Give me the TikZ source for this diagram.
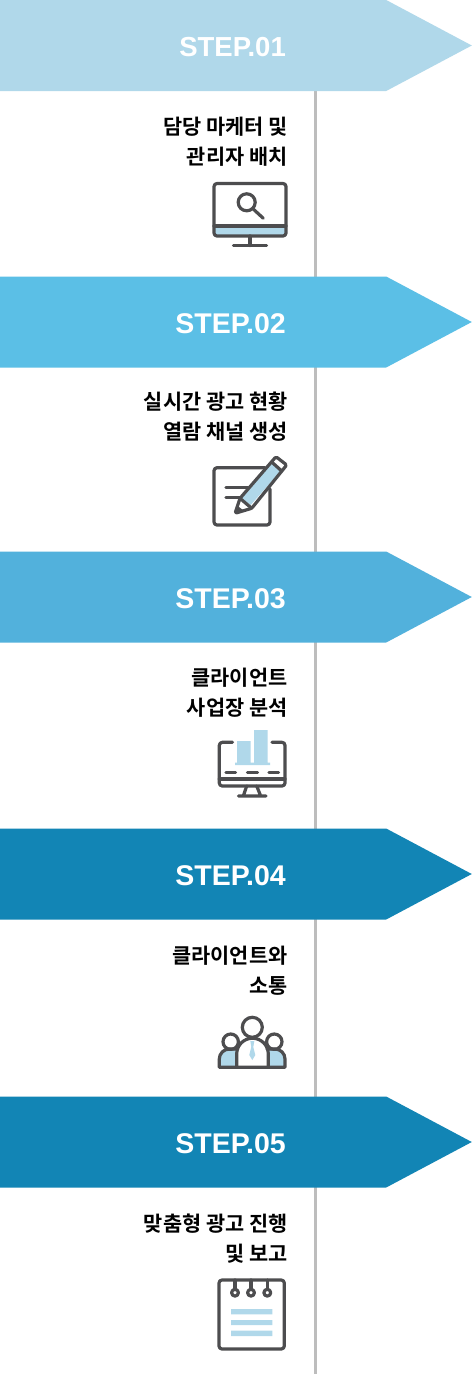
\documentclass[tikz,border=0pt]{standalone}
\usepackage{fontspec}
\setmainfont{Liberation Sans}
\newfontfamily\krfont{Noto Sans CJK KR}[BoldFont={Noto Sans CJK KR Bold}]
\usetikzlibrary{shapes.symbols,positioning}
\definecolor{stepa}{HTML}{B0D8EA}
\definecolor{stepb}{HTML}{5BBFE6}
\definecolor{stepc}{HTML}{52B1DC}
\definecolor{stepd}{HTML}{1285B5}
\definecolor{icongray}{HTML}{4D4D4F}
\definecolor{iconblue}{HTML}{B0D8EA}
\definecolor{railgray}{HTML}{BDBDBD}
\begin{document}
\begin{tikzpicture}[
  x=1pt, y=-1pt,
  banner/.style={signal, signal to=east, signal pointer angle=56, minimum width=472pt, minimum height=91pt, inner sep=0pt, draw=none},
  steplabel/.style={anchor=east, inner sep=0pt, text=white, font=\fontsize{28.5}{30}\selectfont\bfseries},
  desc/.style={anchor=east, align=right, inner sep=0pt, text=black, font=\krfont\fontsize{20.8}{30}\selectfont\bfseries},
  rail/.style={draw=railgray, line width=3pt},
  icon/.style={draw=icongray, line width=3.2pt, line join=round, line cap=round}
]
\useasboundingbox (0,0) rectangle (474,1374);
\fill[white] (0,0) rectangle (474,1374);
\coordinate (railtop) at (315,60);
\coordinate (railend) at (315,1374);
\draw[rail] (railtop) -- (railend);

% banners
\node[banner, fill=stepa] (stepone) at (193,45.5) {};
\node[banner, fill=stepb] (steptwo) at (193,322) {};
\node[banner, fill=stepc] (stepthree) at (193,597) {};
\node[banner, fill=stepd] (stepfour) at (193,874) {};
\node[banner, fill=stepd] (stepfive) at (193,1142) {};
\node[steplabel, font=\fontsize{27.5}{30}\selectfont\bfseries] (labone) at (286,47.5) {STEP.01};
\node[steplabel] (labtwo) at (286,324) {STEP.02};
\node[steplabel] (labthree) at (286,599) {STEP.03};
\node[steplabel] (labfour) at (286,876) {STEP.04};
\node[steplabel] (labfive) at (286,1144) {STEP.05};

% texts
\node[desc] (descone) at (287.5,142) {담당 마케터 및\\관리자 배치};
\node[desc] (desctwo) at (287.5,417) {실시간 광고 현황\\열람 채널 생성};
\node[desc] (descthree) at (287.5,693) {클라이언트\\사업장 분석};
\node[desc] (descfour) at (287.5,971) {클라이언트와\\소통};
\node[desc] (descfive) at (287.5,1239) {맞춤형 광고 진행\hspace{6.5pt}\\및 보고};

% monitor
\fill[iconblue] (214,226) rectangle (286,236);
\draw[icon, rounded corners=3pt] (214,183.5) rectangle (286,236);
\draw[icon] (214,226) -- (286,226);
\draw[icon] (250,236) -- (250,245.5) (233.5,245.5) -- (266.5,245.5);
\draw[icon] (246.7,202.3) circle (8.5);
\draw[icon] (253.5,209.3) -- (263.3,218.3);

% pencil
\draw[icon, rounded corners=3pt] (265,467.7) -- (214,467.7) -- (214,525) -- (270,525) -- (270,489);
\draw[icon] (226,487.3) -- (248,487.3) (226,497.7) -- (240,497.7);
\fill[white] (240,498.3) -- (276,456) -- (286,465) -- (251.7,508.3) -- cycle;
\fill[iconblue] (241,498.3) -- (271.7,463.3) -- (280.7,471) -- (250.7,505) -- cycle;
\draw[icon, rounded corners=1.5pt] (235,513.3) -- (240,498.3) -- (276,456.7) -- (286.7,465) -- (251.7,508.3) -- cycle;
\draw[icon] (240,498.3) -- (251.7,508.3) (271.7,462) -- (281.7,471);
\fill[icongray] (235,513.3) -- (237,505.5) -- (243,510) -- cycle;

% chart
\fill[iconblue] (237,741) rectangle (250.7,763.3) (254,730) rectangle (267.7,763.3) (235,762.7) rectangle (270,765);
\draw[icon, rounded corners=3pt] (232.5,742.3) -- (219.3,742.3) -- (219.3,786) -- (285,786) -- (285,742.3) -- (272,742.3);
\draw[icon] (219.3,779) -- (285,779);
\draw[icon] (226,772.3) -- (235.5,772.3) (247.5,772.3) -- (257.5,772.3) (269,772.3) -- (278.5,772.3);
\draw[icon] (246.7,786) -- (243.3,796) (256.7,786) -- (260.7,796) (238.5,796) -- (266,796);

% people
\fill[iconblue] (219.3,1067.3) -- (219.3,1059) arc[start angle=180, end angle=270, radius=10] -- (240,1049) -- (240,1067.3) -- cycle;
\fill[iconblue] (285,1067.3) -- (285,1059) arc[start angle=0, end angle=-90, radius=10] -- (265,1049) -- (265,1067.3) -- cycle;
\fill[white] (236.7,1067.3) -- (236.7,1054) arc[start angle=180, end angle=360, radius=15.8] -- (268.3,1067.3) -- cycle;
\draw[icon] (252.3,1027.3) circle (10);
\draw[icon] (230.7,1041.7) circle (7.7);
\draw[icon] (274.3,1041.7) circle (7.7);
\draw[icon] (237,1049) -- (229.3,1049) arc[start angle=270, end angle=180, radius=10] -- (219.3,1067.3) -- (285,1067.3) -- (285,1059) arc[start angle=0, end angle=-90, radius=10] -- (267,1049);
\draw[icon] (236.7,1067.3) -- (236.7,1054) arc[start angle=180, end angle=360, radius=15.8] -- (268.3,1067.3);
\fill[iconblue] (250.3,1041) -- (254.3,1041) -- (253.3,1047) -- (255.3,1055) -- (252.3,1060) -- (249.3,1055) -- (251.3,1047) -- cycle;

% notebook
\draw[icon, rounded corners=3pt] (219,1280) rectangle (284.3,1349);
\draw[icon] (235,1280) -- (235,1289) (251,1280) -- (251,1289) (267.3,1280) -- (267.3,1289);
\draw[icon] (235,1292.7) circle (3.4) (251,1292.7) circle (3.4) (267.3,1292.7) circle (3.4);
\fill[iconblue] (231,1309) rectangle (272.3,1314.3) (231,1320) rectangle (272.3,1325) (231,1330.7) rectangle (272.3,1336);
\end{tikzpicture}
\end{document}
